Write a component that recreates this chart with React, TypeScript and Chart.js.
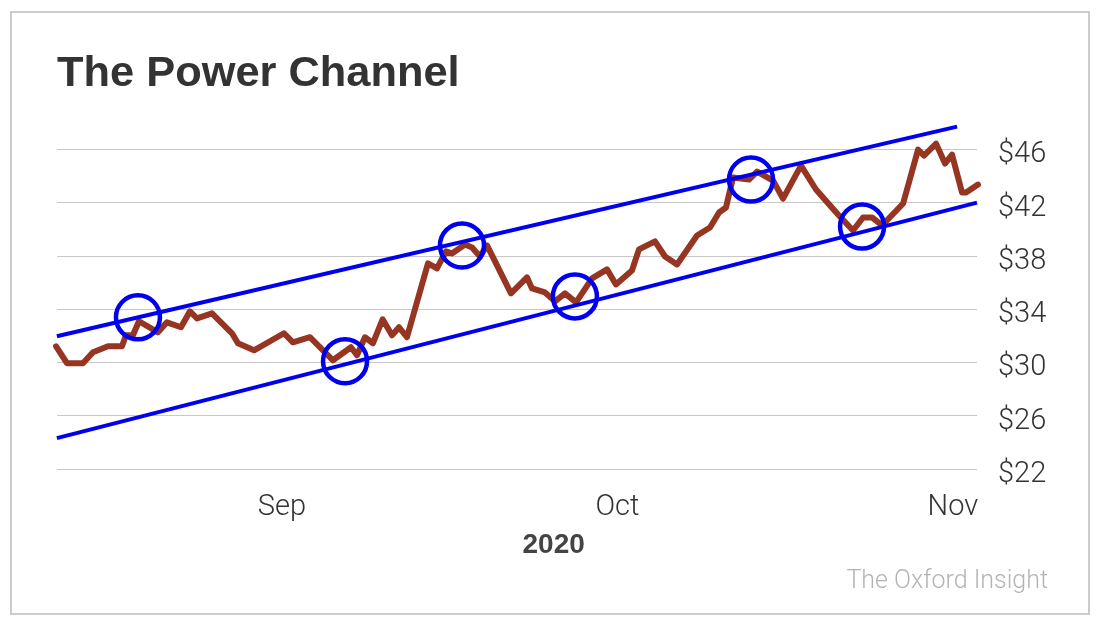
import { useEffect, useRef } from "react"
import { Chart, registerables, type Plugin } from "chart.js"

Chart.register(...registerables)

// x values are days counted from Aug 1 2020
const priceDays = [
  10.8, 11.77, 13.2, 14.1, 15.44, 16.69, 17.05, 17.67, 18.21, 19.91, 20.71, 21.97, 22.77, 23.4, 24.74, 26.53,
  27.06, 28.5, 31.18, 31.98, 33.5, 35.56, 37.17, 37.71, 38.42, 39.14, 40, 40.84, 41.47, 42.18, 44.06, 44.86,
  45.67, 46.2, 47.37, 48, 48.71, 49.34, 51.48, 52.91, 53.36, 54.52, 55.42, 56.31, 57.3, 58.73, 60.07, 60.87,
  62.3, 62.93, 64.36, 65.26, 66.33, 68.12, 69.28, 70.09, 70.71, 71.34, 72.77, 73.49, 74.92, 75.81, 77.42,
  78.76, 80.73, 82.07, 82.97, 83.77, 84.67, 86.55, 87.89, 88.42, 89.5, 90.3, 90.93, 91.82, 92.18, 93.25,
]
const prices = [
  31.22, 29.95, 29.95, 30.77, 31.22, 31.22, 32.05, 32.05, 33.1, 32.27, 33.02, 32.65, 33.85, 33.32, 33.7, 32.2,
  31.45, 30.92, 32.2, 31.52, 31.9, 30.17, 31.15, 30.55, 31.9, 31.45, 33.25, 32.05, 32.65, 31.9, 37.45, 37.07,
  38.35, 38.2, 38.87, 38.65, 37.97, 38.8, 35.2, 36.4, 35.57, 35.27, 34.6, 35.2, 34.52, 36.32, 37, 35.87,
  36.92, 38.5, 39.1, 37.97, 37.37, 39.55, 40.15, 41.27, 41.65, 43.9, 43.75, 44.35, 43.67, 42.32, 44.8,
  43, 41.12, 39.92, 40.9, 40.9, 40.3, 41.95, 46, 45.55, 46.45, 44.95, 45.62, 42.77, 42.77, 43.37,
]

const upperDays = [10.87, 91.38]
const upperPrices = [31.97, 47.73]
const lowerDays = [10.87, 93.16]
const lowerPrices = [24.32, 42.02]

const touchDays = [18.12, 36.64, 47.1, 57.2, 72.95, 82.88]
const touchPrices = [33.4, 30.1, 38.8, 34.97, 43.75, 40.22]

const monthTicks = [31, 61, 91]
const monthLabels = ["Sep", "Oct", "Nov"]
const priceTicks = [22, 26, 30, 34, 38, 42, 46]

const yearLabel = "2020"
const yearDay = 55.3

const zip = (xs: number[], ys: number[]) => xs.map((x, i) => ({ x, y: ys[i] }))
const FONT = "'Liberation Sans', Arial, sans-serif"
const LIGHT_FONT = "Roboto, 'Liberation Sans', sans-serif"

// the year sits off-centre under the axis, so scale.title can't place it
const yearTitle: Plugin<"line"> = {
  id: "yearTitle",
  afterDraw(chart) {
    const { ctx, scales } = chart
    ctx.save()
    ctx.font = `bold 28px ${FONT}`
    ctx.fillStyle = "#444444"
    ctx.textAlign = "center"
    ctx.textBaseline = "middle"
    ctx.fillText(yearLabel, scales.x.getPixelForValue(yearDay), scales.x.bottom - 21.3)
    ctx.restore()
  },
}

export default function App() {
  const canvasRef = useRef<HTMLCanvasElement>(null)

  useEffect(() => {
    if (!canvasRef.current) return

    const chart = new Chart(canvasRef.current, {
      type: "line",
      plugins: [yearTitle],
      data: {
        datasets: [
          {
            data: zip(touchDays, touchPrices),
            showLine: false,
            pointRadius: 22,
            pointBorderWidth: 4.5,
            pointBorderColor: "#0000ee",
            pointBackgroundColor: "transparent",
            clip: false,
          },
          {
            data: zip(upperDays, upperPrices),
            borderColor: "#0000ee",
            borderWidth: 4,
            pointRadius: 0,
            clip: false,
          },
          {
            data: zip(lowerDays, lowerPrices),
            borderColor: "#0000ee",
            borderWidth: 4,
            pointRadius: 0,
            clip: false,
          },
          {
            data: zip(priceDays, prices),
            borderColor: "#963522",
            borderWidth: 6,
            pointRadius: 0,
            borderJoinStyle: "round",
            borderCapStyle: "round",
            clip: false,
          },
        ],
      },
      options: {
        responsive: false,
        animation: false,
        layout: { padding: { left: 57, right: 52, top: 0, bottom: 0 } },
        plugins: {
          legend: { display: false },
          tooltip: { enabled: false },
          title: {
            display: true,
            text: "The Power Channel",
            align: "start",
            color: "#333333",
            font: { family: FONT, size: 43.4, weight: "bold" },
            padding: { top: 48, bottom: 22.9 },
          },
          subtitle: {
            display: true,
            position: "bottom",
            text: "The Oxford Insight",
            align: "end",
            color: "#b4b4b4",
            font: { family: LIGHT_FONT, size: 25, weight: "300" },
            padding: { top: 0, bottom: 31.7 },
          },
        },
        scales: {
          x: {
            type: "linear",
            min: 10.88,
            max: 93.16,
            afterBuildTicks: (scale) => {
              scale.ticks = monthTicks.map((value) => ({ value }))
            },
            afterFit: (scale) => {
              scale.height = 97.3
            },
            grid: { display: false },
            border: { display: false },
            ticks: {
              autoSkip: false,
              maxRotation: 0,
              padding: 13,
              color: "#333333",
              font: { family: LIGHT_FONT, size: 29, weight: "300" },
              callback: (value) => monthLabels[monthTicks.indexOf(Number(value))],
            },
          },
          y: {
            position: "right",
            min: 22,
            max: 48,
            afterBuildTicks: (scale) => {
              scale.ticks = priceTicks.map((value) => ({ value }))
            },
            afterFit: (scale) => {
              scale.width = 71
            },
            grid: { color: "#c8c8c8", lineWidth: 1, drawTicks: false },
            border: { display: false },
            ticks: {
              padding: 21,
              labelOffset: 5.5,
              color: "#333333",
              font: { family: LIGHT_FONT, size: 29, weight: "300" },
              callback: (value) => "$" + value,
            },
          },
        },
      },
    })

    return () => chart.destroy()
  }, [])

  return (
    <div style={{ position: "absolute", left: 0, top: 0, width: 1100, height: 628, background: "#fff" }}>
      <div
        style={{
          position: "absolute",
          left: 10,
          top: 11,
          width: 1076,
          height: 600,
          border: "2px solid #cccccc",
        }}
      />
      <canvas ref={canvasRef} width={1100} height={628} style={{ position: "absolute", left: 0, top: 0 }} />
    </div>
  )
}
